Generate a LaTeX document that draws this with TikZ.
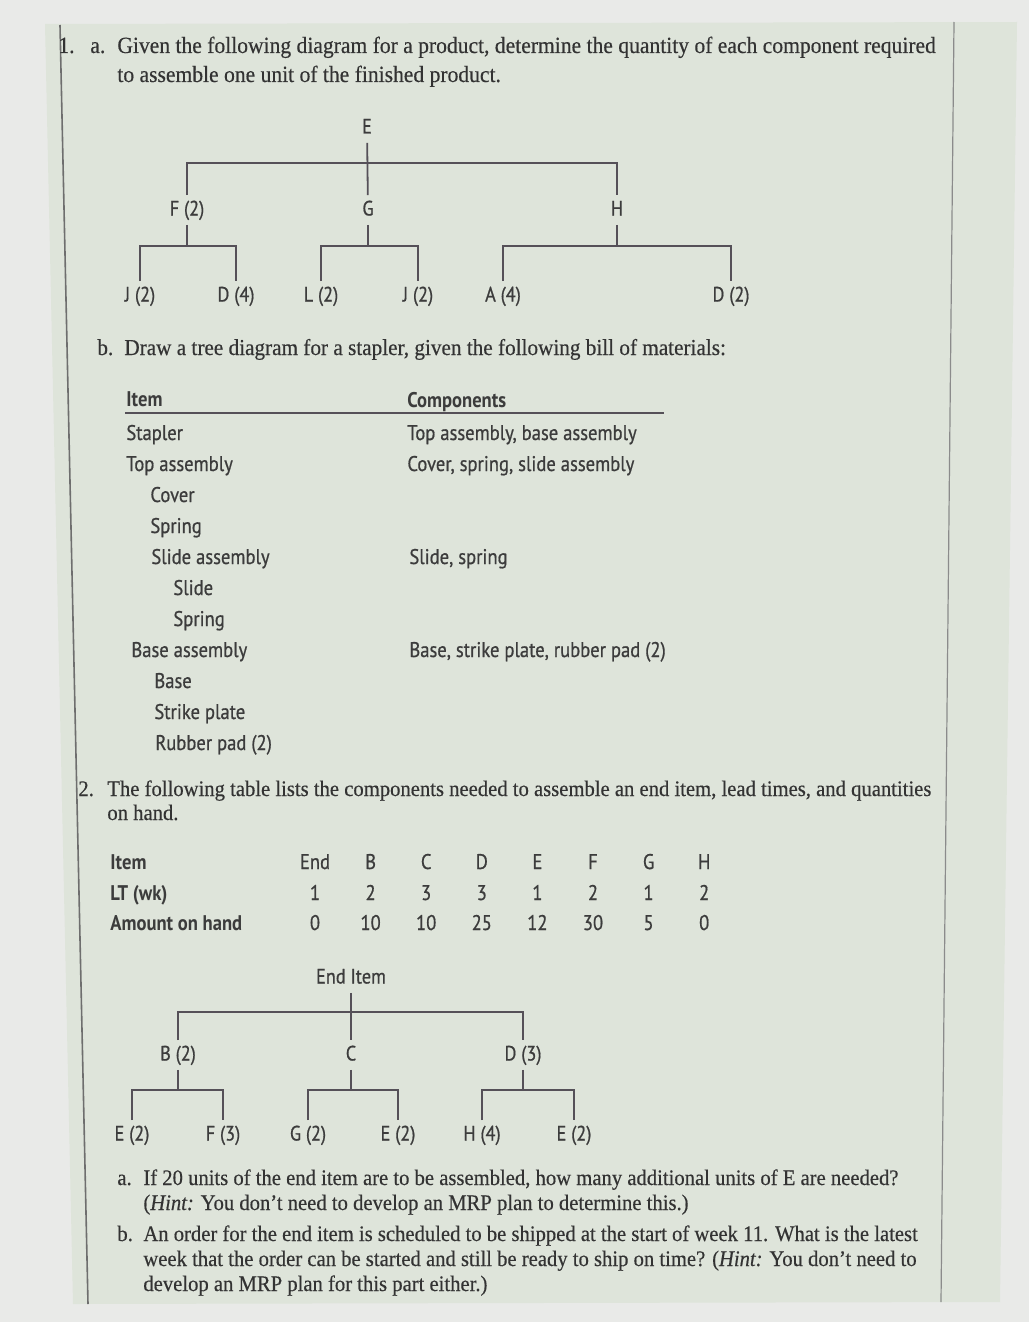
\documentclass[tikz,border=0pt]{standalone}
\usepackage{fontspec}
\setmainfont{Liberation Serif}[FakeStretch=0.93, UprightFeatures={FakeBold=0.4}, ItalicFeatures={FakeBold=0.4}]
\newfontfamily\labelfont{PT Sans}[FakeStretch=0.877, UprightFeatures={FakeBold=0.7}]
\usetikzlibrary{positioning}

\definecolor{pagebg}{HTML}{E9EAE8}
\definecolor{panelbg}{HTML}{DEE4DA}
\definecolor{inkdark}{HTML}{333333}
\definecolor{inkgray}{HTML}{3C3C3C}
\definecolor{linegray}{HTML}{555058}
\definecolor{framegray}{HTML}{6E6E6E}

\tikzset{
  prose/.style={anchor=base west, inner sep=0pt, text=inkdark,
    font=\fontsize{11.6}{14.5}\selectfont},
  prosemid/.style={prose, font=\fontsize{11.4}{14}\selectfont},
  prosesm/.style={prose, font=\fontsize{11.1}{12.5}\selectfont},
  bom/.style={anchor=base west, inner sep=0pt, text=inkgray,
    font=\labelfont\fontsize{10.6}{12}\selectfont},
  bomhead/.style={bom, font=\labelfont\bfseries\fontsize{10.6}{12}\selectfont},
  cell/.style={anchor=base, inner sep=0pt, text=inkgray,
    font=\labelfont\fontsize{10.6}{12}\selectfont},
  cellhead/.style={anchor=base west, inner sep=0pt, text=inkgray,
    font=\labelfont\bfseries\fontsize{10.6}{12}\selectfont},
  part/.style={inner sep=2.5pt, text=inkgray, text height=7.5pt, text depth=2pt,
    font=\labelfont\fontsize{10.4}{12}\selectfont},
  tree/.style={draw=linegray, line width=0.9pt},
}

\begin{document}
\begin{tikzpicture}[x=0.5pt, y=-0.5pt]
  \useasboundingbox (0,0) rectangle (1029,1322);
  % page and photographed sheet
  \fill[pagebg] (0,0) rectangle (1029,1322);
  \fill[panelbg] (45,24) -- (1017,22) -- (1000,1302) -- (73,1304) -- cycle;
  \draw[framegray, line width=0.8pt] (60,25) -- (88,1304);
  \draw[framegray!80, line width=0.6pt] (954,22) -- (941,1302);

  % problem 1a
  \node[prose] (n1) at (58,53) {1.};
  \node[prose] (n1a) at (90,53) {a.};
  \node[prose] (q1a) at (117,53) {Given the following diagram for a product, determine the quantity of each component required};
  \node[prose] (q1a2) at (117,82) {to assemble one unit of the finished product.};

  % product tree
  \node[part] (aE) at (367,128) {E};
  \node[part] (aF) at (187,210) {F (2)};
  \node[part] (aG) at (368,210) {G};
  \node[part] (aH) at (617,210) {H};
  \node[part] (aJa) at (140,296) {J (2)};
  \node[part] (aD) at (236,296) {D (4)};
  \node[part] (aL) at (321,296) {L (2)};
  \node[part] (aJb) at (418,296) {J (2)};
  \node[part] (aA) at (503,296) {A (4)};
  \node[part] (aDb) at (731,296) {D (2)};
  \coordinate (aTop) at (367,163);
  \coordinate (aFbar) at (187,246);
  \coordinate (aGbar) at (368,246);
  \coordinate (aHbar) at (617,246);

  \draw[tree] (aE) -- (aG);
  \draw[tree] (aF) |- (aTop) -| (aH);
  \draw[tree] (aF) -- (aFbar);
  \draw[tree] (aJa) |- (aFbar) -| (aD);
  \draw[tree] (aG) -- (aGbar);
  \draw[tree] (aL) |- (aGbar) -| (aJb);
  \draw[tree] (aH) -- (aHbar);
  \draw[tree] (aA) |- (aHbar) -| (aDb);

  % problem 1b
  \node[prosemid] (n1b) at (97,355) {b.};
  \node[prosemid] (q1b) at (124,355) {Draw a tree diagram for a stapler, given the following bill of materials:};

  % bill of materials
  \node[bomhead] (bomItem) at (126,406) {Item};
  \node[bomhead] (bomComp) at (407,407) {Components};
  \draw[linegray, line width=0.8pt] (125,413) -- (664,413);
  \node[bom] (r1) at (126,440) {Stapler};
  \node[bom] (r1c) at (407,440) {Top assembly, base assembly};
  \node[bom] (r2) at (126,471) {Top assembly};
  \node[bom] (r2c) at (407,471) {Cover, spring, slide assembly};
  \node[bom] (r3) at (150,502) {Cover};
  \node[bom] (r4) at (150,533) {Spring};
  \node[bom] (r5) at (151,564) {Slide assembly};
  \node[bom] (r5c) at (409,564) {Slide, spring};
  \node[bom] (r6) at (173,595) {Slide};
  \node[bom] (r7) at (173,626) {Spring};
  \node[bom] (r8) at (131,657) {Base assembly};
  \node[bom] (r8c) at (409,657) {Base, strike plate, rubber pad (2)};
  \node[bom] (r9) at (154,688) {Base};
  \node[bom] (r10) at (154,719) {Strike plate};
  \node[bom] (r11) at (155,750) {Rubber pad (2)};

  % problem 2
  \node[prosesm] (n2) at (78,796) {2.};
  \node[prosesm] (q2) at (107,796) {The following table lists the components needed to assemble an end item, lead times, and quantities};
  \node[prosesm] (q2l2) at (107,820) {on hand.};

  % lead time table
  \node[cellhead] (tItem) at (110,869) {Item};
  \node[cellhead] (tLT) at (110,900) {LT (wk)};
  \node[cellhead] (tOn) at (110,930) {Amount on hand};
  \foreach \name/\lt/\onhand [count=\i] in {End/1/0, B/2/10, C/3/10, D/3/25, E/1/12, F/2/30, G/1/5, H/2/0} {
    \pgfmathsetmacro{\colx}{315 + (\i-1)*55.6}
    \node[cell] at (\colx,869) {\name};
    \node[cell] at (\colx,900) {\lt};
    \node[cell] at (\colx,930) {\onhand};
  }

  % end item tree
  \node[part] (bEnd) at (351,978) {End Item};
  \node[part] (bB) at (178,1055) {B (2)};
  \node[part] (bC) at (351,1055) {C};
  \node[part] (bD) at (523,1055) {D (3)};
  \node[part] (bEa) at (132,1135) {E (2)};
  \node[part] (bF) at (223,1135) {F (3)};
  \node[part] (bG) at (308,1135) {G (2)};
  \node[part] (bEb) at (398,1135) {E (2)};
  \node[part] (bH) at (482,1135) {H (4)};
  \node[part] (bEc) at (574,1135) {E (2)};
  \coordinate (bTop) at (351,1012);
  \coordinate (bBbar) at (178,1090);
  \coordinate (bCbar) at (351,1090);
  \coordinate (bDbar) at (523,1090);

  \draw[tree] (bEnd) -- (bC);
  \draw[tree] (bB) |- (bTop) -| (bD);
  \draw[tree] (bB) -- (bBbar);
  \draw[tree] (bEa) |- (bBbar) -| (bF);
  \draw[tree] (bC) -- (bCbar);
  \draw[tree] (bG) |- (bCbar) -| (bEb);
  \draw[tree] (bD) -- (bDbar);
  \draw[tree] (bH) |- (bDbar) -| (bEc);

  % questions
  \node[prosesm] (n2a) at (117,1185) {a.};
  \node[prosesm] (q2a) at (143,1185) {If 20 units of the end item are to be assembled, how many additional units of E are needed?};
  \node[prosesm] (q2a2) at (143,1210) {(\textit{Hint:} You don't need to develop an MRP plan to determine this.)};
  \node[prosesm] (n2b) at (117,1241) {b.};
  \node[prosesm] (q2b) at (143,1241) {An order for the end item is scheduled to be shipped at the start of week 11. What is the latest};
  \node[prosesm] (q2b2) at (143,1266) {week that the order can be started and still be ready to ship on time? (\textit{Hint:} You don't need to};
  \node[prosesm] (q2b3) at (143,1291) {develop an MRP plan for this part either.)};
\end{tikzpicture}
\end{document}
